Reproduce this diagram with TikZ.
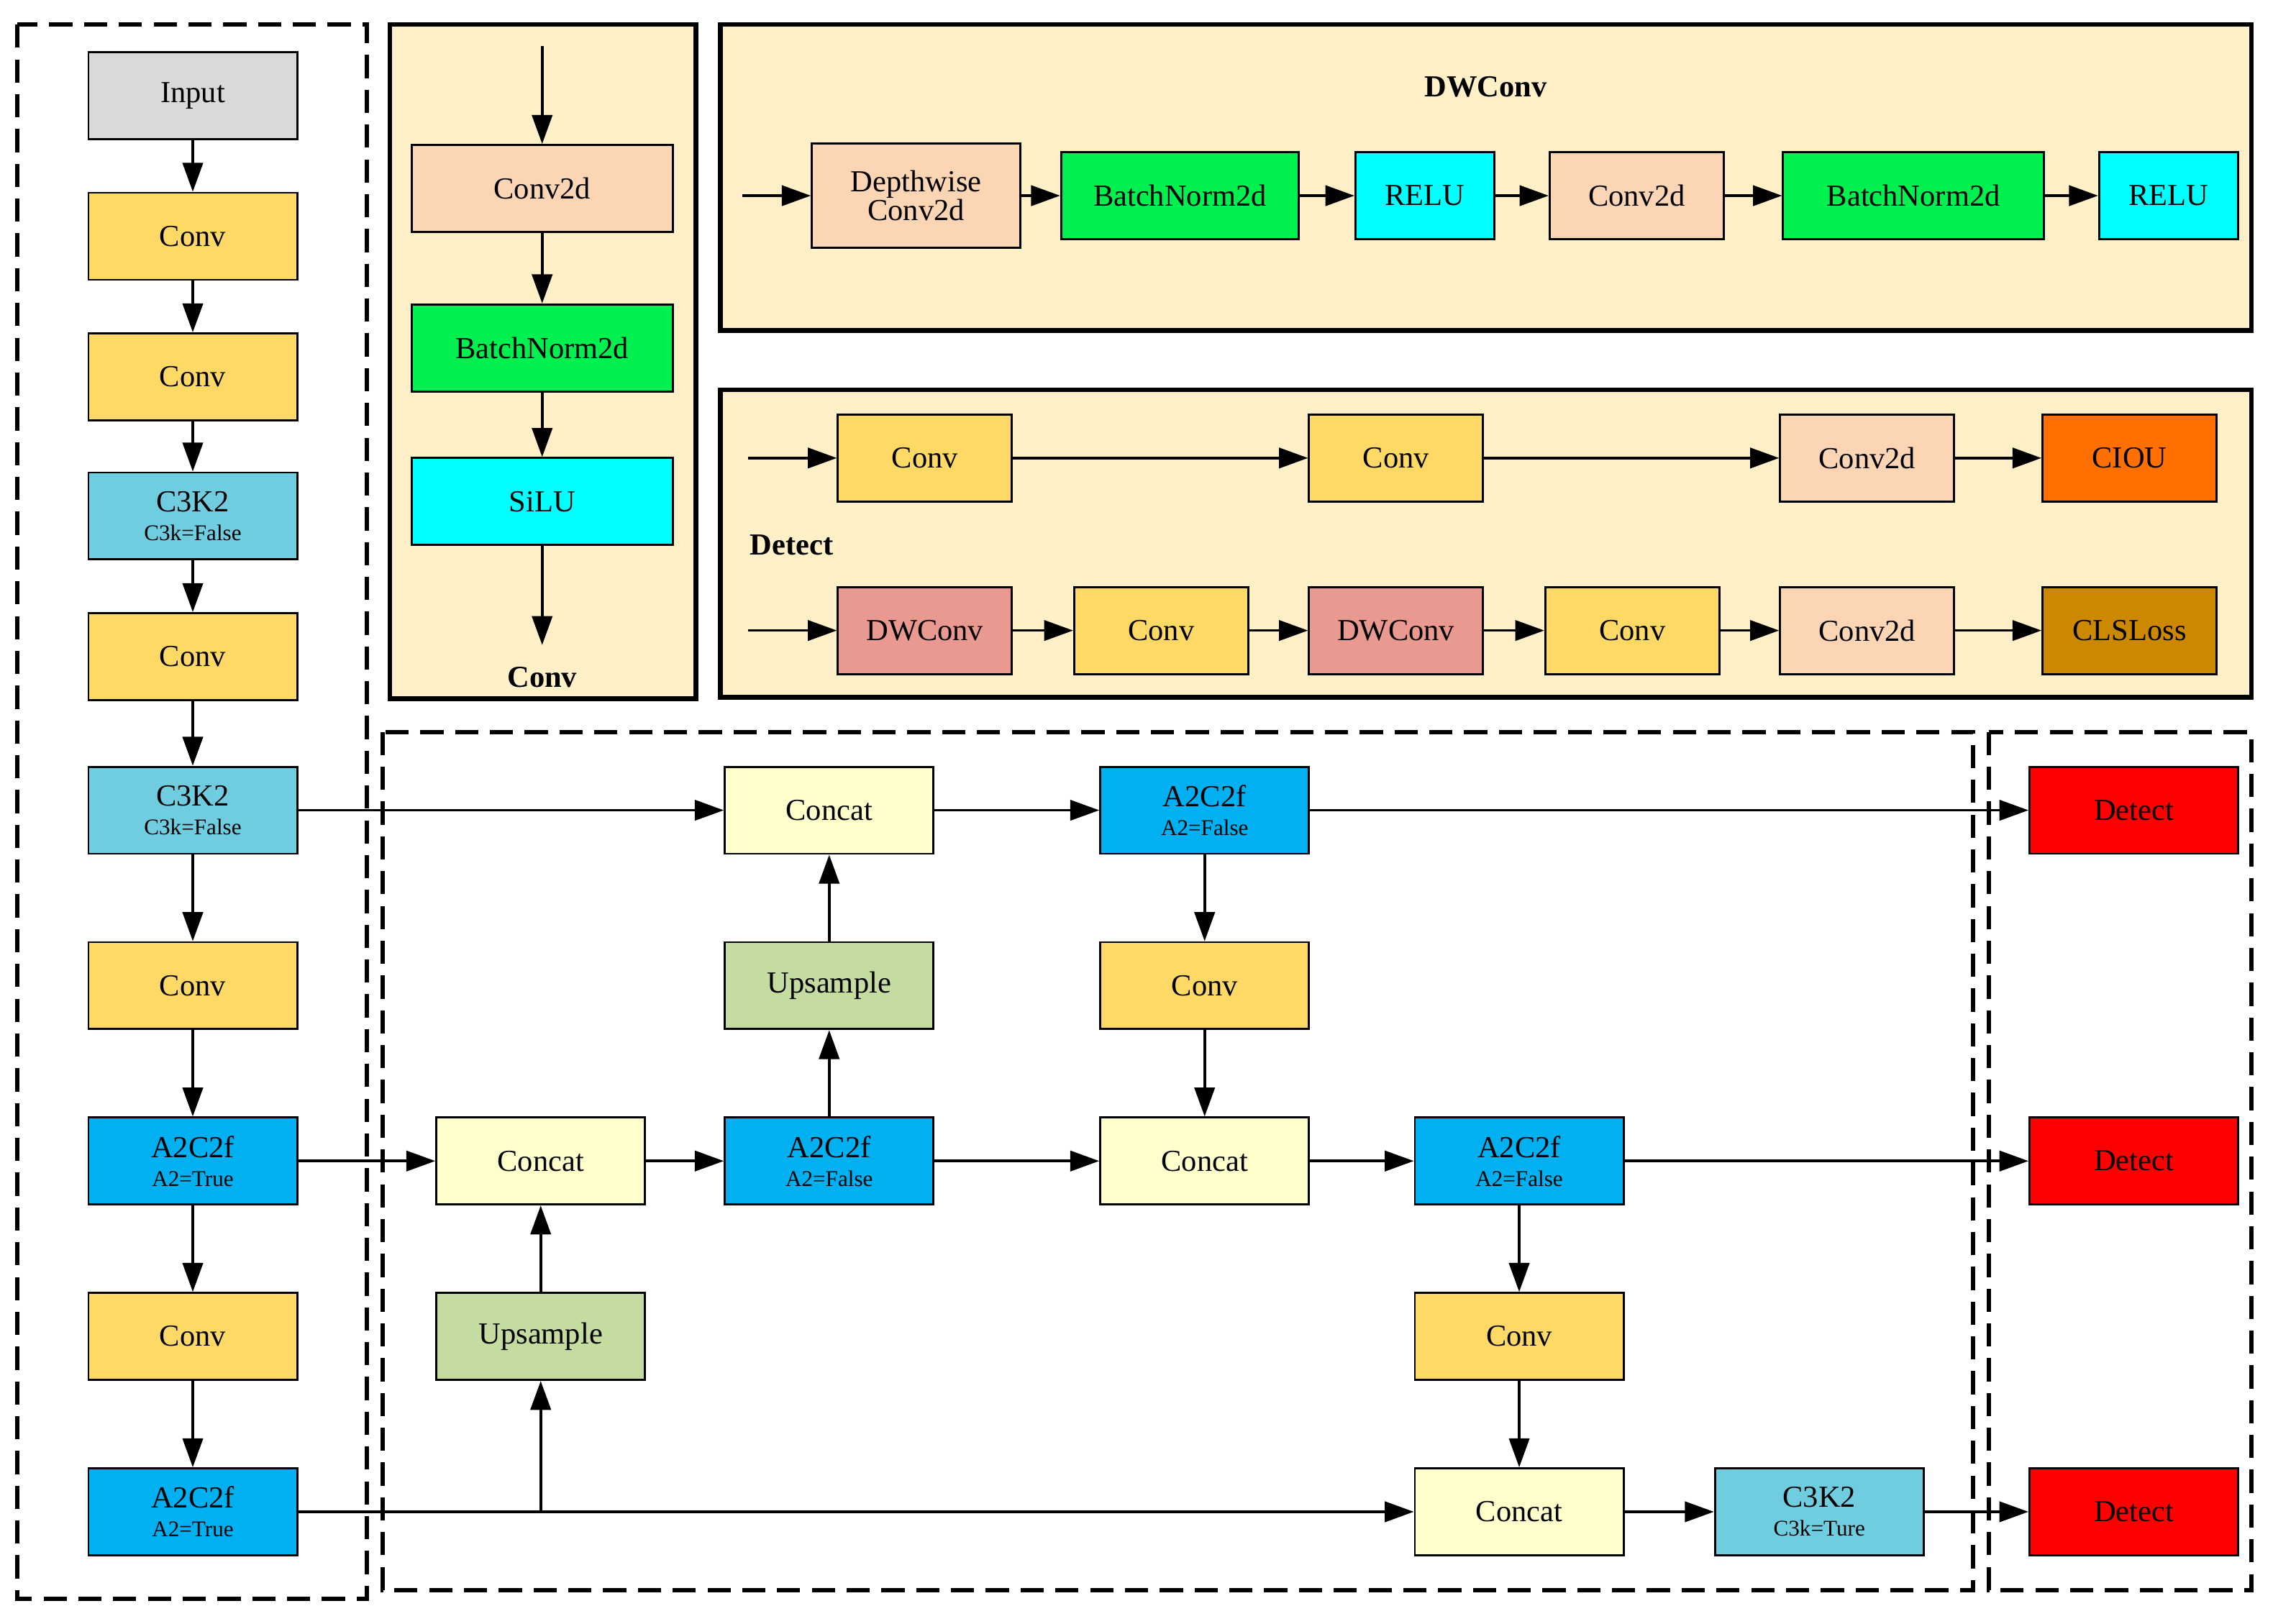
\documentclass[tikz,border=0pt]{standalone}
\usepackage{fontspec}
\setmainfont{Liberation Serif}
\usetikzlibrary{arrows.meta}
\begin{document}
\begin{tikzpicture}[x=0.25mm,y=-0.25mm,
  every node/.style={font=\fontsize{15}{17}\selectfont},
  box/.style={draw,line width=0.35mm,minimum width=36mm,minimum height=15mm,inner sep=0pt,align=center},
  sm/.style={draw,line width=0.35mm,minimum width=30mm,minimum height=15mm,inner sep=0pt,align=center},
  arr/.style={line width=0.45mm,-{Triangle[length=5mm,width=3.5mm]}},
  panel/.style={draw,line width=0.8mm,fill=panelc},
  dbox/.style={draw,line width=0.8mm,dash pattern=on 4mm off 2mm},
  ttl/.style={font=\fontsize{15}{17}\selectfont\bfseries}]
\definecolor{panelc}{RGB}{255,240,200}
\definecolor{convc}{RGB}{255,217,102}
\definecolor{c3c}{RGB}{112,205,224}
\definecolor{a2c}{RGB}{0,176,240}
\definecolor{inc}{RGB}{217,217,217}
\definecolor{catc}{RGB}{255,255,204}
\definecolor{upc}{RGB}{197,220,160}
\definecolor{c2dc}{RGB}{252,213,181}
\definecolor{bnc}{RGB}{0,240,80}
\definecolor{cyc}{RGB}{0,255,255}
\definecolor{dwc}{RGB}{234,153,144}
\definecolor{ciouc}{RGB}{255,112,0}
\definecolor{clsc}{RGB}{204,136,0}
\definecolor{detc}{RGB}{255,0,0}
\newcommand{\sub}[1]{\\[-1mm]{\fontsize{11}{12}\selectfont #1}}
\useasboundingbox (0,0) rectangle (1568,1120);

% dashed groups
\draw[dbox] (12,17) rectangle (253,1103);
\draw[dbox] (264,505) rectangle (1361,1097);
\draw[dbox] (1372,505) rectangle (1553,1097);

% backbone
\node[box,fill=inc]  (in) at (133,66) {Input};
\node[box,fill=convc] (b1) at (133,163) {Conv};
\node[box,fill=convc] (b2) at (133,260) {Conv};
\node[box,fill=c3c]   (b3) at (133,356) {C3K2\sub{C3k=False}};
\node[box,fill=convc] (b4) at (133,453) {Conv};
\node[box,fill=c3c]   (b5) at (133,559) {C3K2\sub{C3k=False}};
\node[box,fill=convc] (b6) at (133,680) {Conv};
\node[box,fill=a2c]   (b7) at (133,801) {A2C2f\sub{A2=True}};
\node[box,fill=convc] (b8) at (133,922) {Conv};
\node[box,fill=a2c]   (b9) at (133,1043) {A2C2f\sub{A2=True}};
\foreach \a/\b in {in/b1,b1/b2,b2/b3,b3/b4,b4/b5,b5/b6,b6/b7,b7/b8,b8/b9}
  \draw[arr] (\a) -- (\b);

% Conv panel
\draw[panel] (269,17) rectangle (480,482);
\coordinate (cs) at (374,32);
\coordinate (ce) at (374,445);
\node[box,minimum width=45mm,fill=c2dc] (k1) at (374,130) {Conv2d};
\node[box,minimum width=45mm,fill=bnc]  (k2) at (374,240) {BatchNorm2d};
\node[box,minimum width=45mm,fill=cyc]  (k3) at (374,346) {SiLU};
\node[ttl] at (374,467) {Conv};
\draw[arr] (cs) -- (k1);
\draw[arr] (k1) -- (k2);
\draw[arr] (k2) -- (k3);
\draw[arr] (k3) -- (ce);

% DWConv panel
\draw[panel] (497,17) rectangle (1553,228);
\node[ttl] at (1025,60) {DWConv};
\coordinate (ds) at (512,135);
\node[box,minimum width=36mm,minimum height=18mm,fill=c2dc] (d1) at (632,135) {Depthwise\\[-1mm]Conv2d};
\node[box,minimum width=41mm,fill=bnc] (d2) at (814,135) {BatchNorm2d};
\node[box,minimum width=24mm,fill=cyc] (d3) at (983,135) {RELU};
\node[box,minimum width=30mm,fill=c2dc] (d4) at (1129,135) {Conv2d};
\node[box,minimum width=45mm,fill=bnc] (d5) at (1320,135) {BatchNorm2d};
\node[box,minimum width=24mm,fill=cyc] (d6) at (1496,135) {RELU};
\draw[arr] (ds) -- (d1);
\foreach \a/\b in {d1/d2,d2/d3,d3/d4,d4/d5,d5/d6} \draw[arr] (\a) -- (\b);

% Detect panel
\draw[panel] (497,269) rectangle (1553,481);
\node[ttl] at (546,376) {Detect};
\coordinate (e0) at (516,316);
\node[sm,fill=convc] (e1) at (638,316) {Conv};
\node[sm,fill=convc] (e2) at (963,316) {Conv};
\node[sm,fill=c2dc]  (e3) at (1288,316) {Conv2d};
\node[sm,fill=ciouc] (e4) at (1469,316) {CIOU};
\draw[arr] (e0) -- (e1);
\foreach \a/\b in {e1/e2,e2/e3,e3/e4} \draw[arr] (\a) -- (\b);
\coordinate (f0) at (516,435);
\node[sm,fill=dwc]   (f1) at (638,435) {DWConv};
\node[sm,fill=convc] (f2) at (801,435) {Conv};
\node[sm,fill=dwc]   (f3) at (963,435) {DWConv};
\node[sm,fill=convc] (f4) at (1126,435) {Conv};
\node[sm,fill=c2dc]  (f5) at (1288,435) {Conv2d};
\node[sm,fill=clsc]  (f6) at (1469,435) {CLSLoss};
\draw[arr] (f0) -- (f1);
\foreach \a/\b in {f1/f2,f2/f3,f3/f4,f4/f5,f5/f6} \draw[arr] (\a) -- (\b);

% neck
\node[box,fill=catc] (n1) at (572,559) {Concat};
\node[box,fill=a2c]  (n2) at (831,559) {A2C2f\sub{A2=False}};
\node[box,fill=upc]  (n3) at (572,680) {Upsample};
\node[box,fill=convc] (n4) at (831,680) {Conv};
\node[box,fill=catc] (n5) at (373,801) {Concat};
\node[box,fill=a2c]  (n6) at (572,801) {A2C2f\sub{A2=False}};
\node[box,fill=catc] (n7) at (831,801) {Concat};
\node[box,fill=a2c]  (n8) at (1048,801) {A2C2f\sub{A2=False}};
\node[box,fill=upc]  (n9) at (373,922) {Upsample};
\node[box,fill=convc] (n10) at (1048,922) {Conv};
\node[box,fill=catc] (n11) at (1048,1043) {Concat};
\node[box,fill=c3c]  (n12) at (1255,1043) {C3K2\sub{C3k=Ture}};
\node[box,fill=detc] (h1) at (1472,559) {Detect};
\node[box,fill=detc] (h2) at (1472,801) {Detect};
\node[box,fill=detc] (h3) at (1472,1043) {Detect};
\coordinate (br) at (373,1043);

\draw[arr] (b5) -- (n1);
\draw[arr] (n1) -- (n2);
\draw[arr] (n2) -- (h1);
\draw[arr] (n2) -- (n4);
\draw[arr] (n4) -- (n7);
\draw[arr] (n3) -- (n1);
\draw[arr] (n6) -- (n3);
\draw[arr] (b7) -- (n5);
\draw[arr] (n5) -- (n6);
\draw[arr] (n6) -- (n7);
\draw[arr] (n7) -- (n8);
\draw[arr] (n8) -- (h2);
\draw[arr] (n8) -- (n10);
\draw[arr] (n10) -- (n11);
\draw[arr] (n9) -- (n5);
\draw[arr] (b9) -- (n11);
\draw[arr] (br) -- (n9);
\draw[arr] (n11) -- (n12);
\draw[arr] (n12) -- (h3);
\end{tikzpicture}
\end{document}
